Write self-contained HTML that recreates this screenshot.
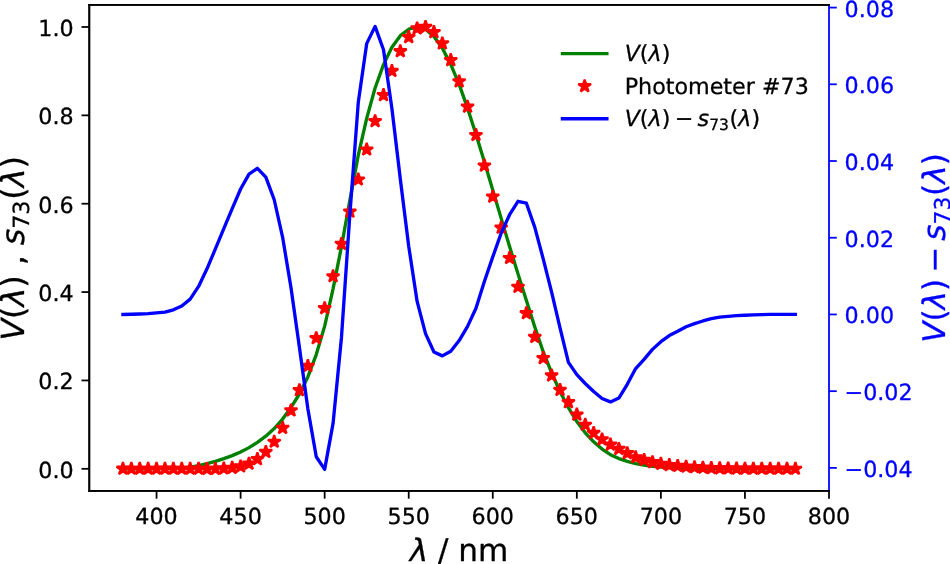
<!DOCTYPE html>
<html><head><meta charset="utf-8"><title>V(lambda) vs Photometer #73</title>
<style>html,body{margin:0;padding:0;background:#fff;}body{width:950px;height:564px;overflow:hidden;}svg{display:block;text-rendering:geometricPrecision;}</style>
</head><body>
<svg width="950" height="564" viewBox="0 0 427.5 253.8" version="1.1">
<defs>
<style type="text/css">text{stroke:#000;stroke-width:0.135px;}*{stroke-linejoin: round; stroke-linecap: butt}</style>
</defs>
<g id="figure_1">
<g id="patch_1">
<path d="M 0 253.8 
L 427.5 253.8 
L 427.5 0 
L 0 0 
z
" style="fill: #ffffff"/>
</g>
<g id="axes_1">
<g id="patch_2">
<path d="M 40.185 220.905 
L 373.05 220.905 
L 373.05 2.205 
L 40.185 2.205 
z
" style="fill: #ffffff"/>
</g>
<g id="matplotlib.axis_1">
<g id="xtick_1">
<g id="line2d_1">
<g>
<path d="M 0 0 L 0 3.5" transform="translate(70.445455 220.905)" style="stroke: #000000; stroke-width: 0.8"/>
</g>
</g>
<g id="text_1" transform="translate(0.0000 0.2250)">
<text style="font-size: 10px; font-family: 'DejaVu Sans', sans-serif; text-anchor: middle" x="70.445455" y="235.503437" transform="rotate(-0 70.445455 235.503437)">400</text>
</g>
</g>
<g id="xtick_2">
<g id="line2d_2">
<g>
<path d="M 0 0 L 0 3.5" transform="translate(108.271023 220.905)" style="stroke: #000000; stroke-width: 0.8"/>
</g>
</g>
<g id="text_2" transform="translate(0.0000 0.2250)">
<text style="font-size: 10px; font-family: 'DejaVu Sans', sans-serif; text-anchor: middle" x="108.271023" y="235.503437" transform="rotate(-0 108.271023 235.503437)">450</text>
</g>
</g>
<g id="xtick_3">
<g id="line2d_3">
<g>
<path d="M 0 0 L 0 3.5" transform="translate(146.096591 220.905)" style="stroke: #000000; stroke-width: 0.8"/>
</g>
</g>
<g id="text_3" transform="translate(0.0000 0.2250)">
<text style="font-size: 10px; font-family: 'DejaVu Sans', sans-serif; text-anchor: middle" x="146.096591" y="235.503437" transform="rotate(-0 146.096591 235.503437)">500</text>
</g>
</g>
<g id="xtick_4">
<g id="line2d_4">
<g>
<path d="M 0 0 L 0 3.5" transform="translate(183.922159 220.905)" style="stroke: #000000; stroke-width: 0.8"/>
</g>
</g>
<g id="text_4" transform="translate(0.0000 0.2250)">
<text style="font-size: 10px; font-family: 'DejaVu Sans', sans-serif; text-anchor: middle" x="183.922159" y="235.503437" transform="rotate(-0 183.922159 235.503437)">550</text>
</g>
</g>
<g id="xtick_5">
<g id="line2d_5">
<g>
<path d="M 0 0 L 0 3.5" transform="translate(221.747727 220.905)" style="stroke: #000000; stroke-width: 0.8"/>
</g>
</g>
<g id="text_5" transform="translate(0.0000 0.2250)">
<text style="font-size: 10px; font-family: 'DejaVu Sans', sans-serif; text-anchor: middle" x="221.747727" y="235.503437" transform="rotate(-0 221.747727 235.503437)">600</text>
</g>
</g>
<g id="xtick_6">
<g id="line2d_6">
<g>
<path d="M 0 0 L 0 3.5" transform="translate(259.573295 220.905)" style="stroke: #000000; stroke-width: 0.8"/>
</g>
</g>
<g id="text_6" transform="translate(0.0000 0.2250)">
<text style="font-size: 10px; font-family: 'DejaVu Sans', sans-serif; text-anchor: middle" x="259.573295" y="235.503437" transform="rotate(-0 259.573295 235.503437)">650</text>
</g>
</g>
<g id="xtick_7">
<g id="line2d_7">
<g>
<path d="M 0 0 L 0 3.5" transform="translate(297.398864 220.905)" style="stroke: #000000; stroke-width: 0.8"/>
</g>
</g>
<g id="text_7" transform="translate(0.0000 0.2250)">
<text style="font-size: 10px; font-family: 'DejaVu Sans', sans-serif; text-anchor: middle" x="297.398864" y="235.503437" transform="rotate(-0 297.398864 235.503437)">700</text>
</g>
</g>
<g id="xtick_8">
<g id="line2d_8">
<g>
<path d="M 0 0 L 0 3.5" transform="translate(335.224432 220.905)" style="stroke: #000000; stroke-width: 0.8"/>
</g>
</g>
<g id="text_8" transform="translate(0.0000 0.2250)">
<text style="font-size: 10px; font-family: 'DejaVu Sans', sans-serif; text-anchor: middle" x="335.224432" y="235.503437" transform="rotate(-0 335.224432 235.503437)">750</text>
</g>
</g>
<g id="xtick_9">
<g id="line2d_9">
<g>
<path d="M 0 0 L 0 3.5" transform="translate(373.05 220.905)" style="stroke: #000000; stroke-width: 0.8"/>
</g>
</g>
<g id="text_9" transform="translate(0.0000 0.2250)">
<text style="font-size: 10px; font-family: 'DejaVu Sans', sans-serif; text-anchor: middle" x="373.05" y="235.503437" transform="rotate(-0 373.05 235.503437)">800</text>
</g>
</g>
<g id="text_10" transform="translate(0.0000 0.4950)">
<!-- $\lambda$ / nm -->
<g transform="translate(184.3575 252.220937)">
<text>
<tspan x="0" y="-0.359375" style="font-style: oblique; font-size: 14px; font-family: 'DejaVu Sans', sans-serif">λ</tspan>
<tspan x="8.285156" y="-0.359375" style="font-size: 14px; font-family: 'DejaVu Sans', sans-serif"> </tspan>
<tspan x="12.735352" y="-0.359375" style="font-size: 14px; font-family: 'DejaVu Sans', sans-serif">/</tspan>
<tspan x="17.452148" y="-0.359375" style="font-size: 14px; font-family: 'DejaVu Sans', sans-serif"> </tspan>
<tspan x="21.902344" y="-0.359375" style="font-size: 14px; font-family: 'DejaVu Sans', sans-serif">n</tspan>
<tspan x="30.775391" y="-0.359375" style="font-size: 14px; font-family: 'DejaVu Sans', sans-serif">m</tspan>
</text>
</g>
</g>
</g>
<g id="matplotlib.axis_2">
<g id="ytick_1">
<g id="line2d_10">
<g>
<path d="M 0 0 L -3.5 0" transform="translate(40.185 210.964091)" style="stroke: #000000; stroke-width: 0.8"/>
</g>
</g>
<g id="text_11" transform="translate(0.0000 0.2250)">
<text style="font-size: 10px; font-family: 'DejaVu Sans', sans-serif; text-anchor: end" x="33.185" y="214.76331" transform="rotate(-0 33.185 214.76331)">0.0</text>
</g>
</g>
<g id="ytick_2">
<g id="line2d_11">
<g>
<path d="M 0 0 L -3.5 0" transform="translate(40.185 171.200455)" style="stroke: #000000; stroke-width: 0.8"/>
</g>
</g>
<g id="text_12" transform="translate(0.0000 0.2250)">
<text style="font-size: 10px; font-family: 'DejaVu Sans', sans-serif; text-anchor: end" x="33.185" y="174.999673" transform="rotate(-0 33.185 174.999673)">0.2</text>
</g>
</g>
<g id="ytick_3">
<g id="line2d_12">
<g>
<path d="M 0 0 L -3.5 0" transform="translate(40.185 131.436818)" style="stroke: #000000; stroke-width: 0.8"/>
</g>
</g>
<g id="text_13" transform="translate(0.0000 0.2250)">
<text style="font-size: 10px; font-family: 'DejaVu Sans', sans-serif; text-anchor: end" x="33.185" y="135.236037" transform="rotate(-0 33.185 135.236037)">0.4</text>
</g>
</g>
<g id="ytick_4">
<g id="line2d_13">
<g>
<path d="M 0 0 L -3.5 0" transform="translate(40.185 91.673182)" style="stroke: #000000; stroke-width: 0.8"/>
</g>
</g>
<g id="text_14" transform="translate(0.0000 0.2250)">
<text style="font-size: 10px; font-family: 'DejaVu Sans', sans-serif; text-anchor: end" x="33.185" y="95.472401" transform="rotate(-0 33.185 95.472401)">0.6</text>
</g>
</g>
<g id="ytick_5">
<g id="line2d_14">
<g>
<path d="M 0 0 L -3.5 0" transform="translate(40.185 51.909545)" style="stroke: #000000; stroke-width: 0.8"/>
</g>
</g>
<g id="text_15" transform="translate(0.0000 0.2250)">
<text style="font-size: 10px; font-family: 'DejaVu Sans', sans-serif; text-anchor: end" x="33.185" y="55.708764" transform="rotate(-0 33.185 55.708764)">0.8</text>
</g>
</g>
<g id="ytick_6">
<g id="line2d_15">
<g>
<path d="M 0 0 L -3.5 0" transform="translate(40.185 12.145909)" style="stroke: #000000; stroke-width: 0.8"/>
</g>
</g>
<g id="text_16" transform="translate(0.0000 0.2250)">
<text style="font-size: 10px; font-family: 'DejaVu Sans', sans-serif; text-anchor: end" x="33.185" y="15.945128" transform="rotate(-0 33.185 15.945128)">1.0</text>
</g>
</g>
<g id="text_17" transform="translate(0.9450 0.0000)">
<!-- $V(\lambda)$ , $s_{73}(\lambda)$ -->
<g transform="translate(10.307922 153.2395) rotate(-90)">
<text>
<tspan x="0" y="-0.359375" style="font-style: oblique; font-size: 14.3px; font-family: 'DejaVu Sans', sans-serif">V</tspan>
<tspan x="15.307617" y="-0.359375" style="font-style: oblique; font-size: 14.3px; font-family: 'DejaVu Sans', sans-serif">λ</tspan>
<tspan x="42.88916" y="-0.359375" style="font-style: oblique; font-size: 14.3px; font-family: 'DejaVu Sans', sans-serif">s</tspan>
<tspan x="68.948413" y="-0.359375" style="font-style: oblique; font-size: 14.3px; font-family: 'DejaVu Sans', sans-serif">λ</tspan>
<tspan x="9.748169" y="-0.359375" style="font-size: 14.3px; font-family: 'DejaVu Sans', sans-serif">(</tspan>
<tspan x="23.740723" y="-0.359375" style="font-size: 14.3px; font-family: 'DejaVu Sans', sans-serif">)</tspan>
<tspan x="29.300171" y="-0.359375" style="font-size: 14.3px; font-family: 'DejaVu Sans', sans-serif"> </tspan>
<tspan x="33.829834" y="-0.359375" style="font-size: 14.3px; font-family: 'DejaVu Sans', sans-serif">,</tspan>
<tspan x="38.359497" y="-0.359375" style="font-size: 14.3px; font-family: 'DejaVu Sans', sans-serif"> </tspan>
<tspan x="63.388965" y="-0.359375" style="font-size: 14.3px; font-family: 'DejaVu Sans', sans-serif">(</tspan>
<tspan x="77.381519" y="-0.359375" style="font-size: 14.3px; font-family: 'DejaVu Sans', sans-serif">)</tspan>
<tspan x="50.313354" y="1.9375" style="font-size: 10.01px; font-family: 'DejaVu Sans', sans-serif">7</tspan>
<tspan x="56.659753" y="1.9375" style="font-size: 10.01px; font-family: 'DejaVu Sans', sans-serif">3</tspan>
</text>
</g>
</g>
</g>
<g id="line2d_16">
<path d="M 55.315227 210.956337 
L 59.097784 210.951367 
L 62.880341 210.940233 
L 66.662898 210.920947 
L 70.445455 210.885359 
L 74.228011 210.836847 
L 78.010568 210.723521 
L 81.793125 210.530667 
L 85.575682 210.168818 
L 89.358239 209.512718 
L 93.140795 208.6578 
L 96.923352 207.615993 
L 100.705909 206.391273 
L 104.488466 205.039309 
L 108.271023 203.409 
L 112.05358 201.420818 
L 115.836136 199.035 
L 119.618693 196.271427 
L 123.40125 192.875613 
L 127.183807 188.577164 
L 130.966364 183.324387 
L 134.74892 177.304173 
L 138.531477 169.605933 
L 142.314034 159.549709 
L 146.096591 146.745818 
L 149.879148 129.985445 
L 153.661705 110.958545 
L 157.444261 90.042873 
L 161.226818 69.803182 
L 165.009375 53.261509 
L 168.791932 39.582818 
L 172.574489 29.075277 
L 176.357045 21.291545 
L 180.139602 16.062627 
L 183.922159 13.149941 
L 187.704716 12.145909 
L 191.487273 13.14 
L 195.26983 16.400618 
L 199.052386 21.689182 
L 202.834943 28.965927 
L 206.6175 37.992273 
L 210.400057 48.668809 
L 214.182614 60.458727 
L 217.96517 72.805336 
L 221.747727 85.509818 
L 225.530284 98.273945 
L 229.312841 110.958545 
L 233.095398 123.245509 
L 236.877955 135.214364 
L 240.660511 147.143455 
L 244.443068 158.277273 
L 248.225625 167.820545 
L 252.008182 176.170909 
L 255.790739 183.487418 
L 259.573295 189.690545 
L 263.355852 194.740527 
L 267.138409 198.836182 
L 270.920966 202.100776 
L 274.703523 204.601909 
L 278.48608 206.351509 
L 282.268636 207.584182 
L 286.051193 208.594178 
L 289.83375 209.331794 
L 293.616307 209.826254 
L 297.398864 210.148539 
L 301.18142 210.381752 
L 304.963977 210.548362 
L 308.746534 210.669045 
L 312.529091 210.755928 
L 316.311648 210.816965 
L 320.094205 210.860705 
L 323.876761 210.892318 
L 327.659318 210.914585 
L 331.441875 210.929894 
L 335.224432 210.940233 
L 339.006989 210.947231 
L 342.789545 210.952162 
L 346.572102 210.955661 
L 350.354659 210.958126 
L 354.137216 210.959876 
L 357.919773 210.961109 
" clip-path="url(#p7235c528ca)" style="fill: none; stroke: #008000; stroke-width: 1.5; stroke-linecap: square"/>
</g>
<g id="line2d_17">
<g clip-path="url(#p7235c528ca)">
<path d="M 0 -3 L -0.673542 -0.927051 L -2.85317 -0.927051 L -1.089814 0.354102 L -1.763356 2.427051 L -0 1.145898 L 1.763356 2.427051 L 1.089814 0.354102 L 2.85317 -0.927051 L 0.673542 -0.927051 z" transform="translate(55.315227 210.956337)" style="fill: #ff0000; stroke: #ff0000; stroke-linejoin: bevel"/>
<path d="M 0 -3 L -0.673542 -0.927051 L -2.85317 -0.927051 L -1.089814 0.354102 L -1.763356 2.427051 L -0 1.145898 L 1.763356 2.427051 L 1.089814 0.354102 L 2.85317 -0.927051 L 0.673542 -0.927051 z" transform="translate(59.097784 210.963296)" style="fill: #ff0000; stroke: #ff0000; stroke-linejoin: bevel"/>
<path d="M 0 -3 L -0.673542 -0.927051 L -2.85317 -0.927051 L -1.089814 0.354102 L -1.763356 2.427051 L -0 1.145898 L 1.763356 2.427051 L 1.089814 0.354102 L 2.85317 -0.927051 L 0.673542 -0.927051 z" transform="translate(62.880341 210.964091)" style="fill: #ff0000; stroke: #ff0000; stroke-linejoin: bevel"/>
<path d="M 0 -3 L -0.673542 -0.927051 L -2.85317 -0.927051 L -1.089814 0.354102 L -1.763356 2.427051 L -0 1.145898 L 1.763356 2.427051 L 1.089814 0.354102 L 2.85317 -0.927051 L 0.673542 -0.927051 z" transform="translate(66.662898 210.960711)" style="fill: #ff0000; stroke: #ff0000; stroke-linejoin: bevel"/>
<path d="M 0 -3 L -0.673542 -0.927051 L -2.85317 -0.927051 L -1.089814 0.354102 L -1.763356 2.427051 L -0 1.145898 L 1.763356 2.427051 L 1.089814 0.354102 L 2.85317 -0.927051 L 0.673542 -0.927051 z" transform="translate(70.445455 210.964886)" style="fill: #ff0000; stroke: #ff0000; stroke-linejoin: bevel"/>
<path d="M 0 -3 L -0.673542 -0.927051 L -2.85317 -0.927051 L -1.089814 0.354102 L -1.763356 2.427051 L -0 1.145898 L 1.763356 2.427051 L 1.089814 0.354102 L 2.85317 -0.927051 L 0.673542 -0.927051 z" transform="translate(74.228011 210.956138)" style="fill: #ff0000; stroke: #ff0000; stroke-linejoin: bevel"/>
<path d="M 0 -3 L -0.673542 -0.927051 L -2.85317 -0.927051 L -1.089814 0.354102 L -1.763356 2.427051 L -0 1.145898 L 1.763356 2.427051 L 1.089814 0.354102 L 2.85317 -0.927051 L 0.673542 -0.927051 z" transform="translate(78.010568 210.962103)" style="fill: #ff0000; stroke: #ff0000; stroke-linejoin: bevel"/>
<path d="M 0 -3 L -0.673542 -0.927051 L -2.85317 -0.927051 L -1.089814 0.354102 L -1.763356 2.427051 L -0 1.145898 L 1.763356 2.427051 L 1.089814 0.354102 L 2.85317 -0.927051 L 0.673542 -0.927051 z" transform="translate(81.793125 210.968067)" style="fill: #ff0000; stroke: #ff0000; stroke-linejoin: bevel"/>
<path d="M 0 -3 L -0.673542 -0.927051 L -2.85317 -0.927051 L -1.089814 0.354102 L -1.763356 2.427051 L -0 1.145898 L 1.763356 2.427051 L 1.089814 0.354102 L 2.85317 -0.927051 L 0.673542 -0.927051 z" transform="translate(85.575682 210.964091)" style="fill: #ff0000; stroke: #ff0000; stroke-linejoin: bevel"/>
<path d="M 0 -3 L -0.673542 -0.927051 L -2.85317 -0.927051 L -1.089814 0.354102 L -1.763356 2.427051 L -0 1.145898 L 1.763356 2.427051 L 1.089814 0.354102 L 2.85317 -0.927051 L 0.673542 -0.927051 z" transform="translate(89.358239 210.964091)" style="fill: #ff0000; stroke: #ff0000; stroke-linejoin: bevel"/>
<path d="M 0 -3 L -0.673542 -0.927051 L -2.85317 -0.927051 L -1.089814 0.354102 L -1.763356 2.427051 L -0 1.145898 L 1.763356 2.427051 L 1.089814 0.354102 L 2.85317 -0.927051 L 0.673542 -0.927051 z" transform="translate(93.140795 211.023736)" style="fill: #ff0000; stroke: #ff0000; stroke-linejoin: bevel"/>
<path d="M 0 -3 L -0.673542 -0.927051 L -2.85317 -0.927051 L -1.089814 0.354102 L -1.763356 2.427051 L -0 1.145898 L 1.763356 2.427051 L 1.089814 0.354102 L 2.85317 -0.927051 L 0.673542 -0.927051 z" transform="translate(96.923352 211.015784)" style="fill: #ff0000; stroke: #ff0000; stroke-linejoin: bevel"/>
<path d="M 0 -3 L -0.673542 -0.927051 L -2.85317 -0.927051 L -1.089814 0.354102 L -1.763356 2.427051 L -0 1.145898 L 1.763356 2.427051 L 1.089814 0.354102 L 2.85317 -0.927051 L 0.673542 -0.927051 z" transform="translate(100.705909 210.8448)" style="fill: #ff0000; stroke: #ff0000; stroke-linejoin: bevel"/>
<path d="M 0 -3 L -0.673542 -0.927051 L -2.85317 -0.927051 L -1.089814 0.354102 L -1.763356 2.427051 L -0 1.145898 L 1.763356 2.427051 L 1.089814 0.354102 L 2.85317 -0.927051 L 0.673542 -0.927051 z" transform="translate(104.488466 210.526691)" style="fill: #ff0000; stroke: #ff0000; stroke-linejoin: bevel"/>
<path d="M 0 -3 L -0.673542 -0.927051 L -2.85317 -0.927051 L -1.089814 0.354102 L -1.763356 2.427051 L -0 1.145898 L 1.763356 2.427051 L 1.089814 0.354102 L 2.85317 -0.927051 L 0.673542 -0.927051 z" transform="translate(108.271023 209.910355)" style="fill: #ff0000; stroke: #ff0000; stroke-linejoin: bevel"/>
<path d="M 0 -3 L -0.673542 -0.927051 L -2.85317 -0.927051 L -1.089814 0.354102 L -1.763356 2.427051 L -0 1.145898 L 1.763356 2.427051 L 1.089814 0.354102 L 2.85317 -0.927051 L 0.673542 -0.927051 z" transform="translate(112.05358 208.697564)" style="fill: #ff0000; stroke: #ff0000; stroke-linejoin: bevel"/>
<path d="M 0 -3 L -0.673542 -0.927051 L -2.85317 -0.927051 L -1.089814 0.354102 L -1.763356 2.427051 L -0 1.145898 L 1.763356 2.427051 L 1.089814 0.354102 L 2.85317 -0.927051 L 0.673542 -0.927051 z" transform="translate(115.836136 206.609973)" style="fill: #ff0000; stroke: #ff0000; stroke-linejoin: bevel"/>
<path d="M 0 -3 L -0.673542 -0.927051 L -2.85317 -0.927051 L -1.089814 0.354102 L -1.763356 2.427051 L -0 1.145898 L 1.763356 2.427051 L 1.089814 0.354102 L 2.85317 -0.927051 L 0.673542 -0.927051 z" transform="translate(119.618693 203.389118)" style="fill: #ff0000; stroke: #ff0000; stroke-linejoin: bevel"/>
<path d="M 0 -3 L -0.673542 -0.927051 L -2.85317 -0.927051 L -1.089814 0.354102 L -1.763356 2.427051 L -0 1.145898 L 1.763356 2.427051 L 1.089814 0.354102 L 2.85317 -0.927051 L 0.673542 -0.927051 z" transform="translate(123.40125 198.820276)" style="fill: #ff0000; stroke: #ff0000; stroke-linejoin: bevel"/>
<path d="M 0 -3 L -0.673542 -0.927051 L -2.85317 -0.927051 L -1.089814 0.354102 L -1.763356 2.427051 L -0 1.145898 L 1.763356 2.427051 L 1.089814 0.354102 L 2.85317 -0.927051 L 0.673542 -0.927051 z" transform="translate(127.183807 192.573409)" style="fill: #ff0000; stroke: #ff0000; stroke-linejoin: bevel"/>
<path d="M 0 -3 L -0.673542 -0.927051 L -2.85317 -0.927051 L -1.089814 0.354102 L -1.763356 2.427051 L -0 1.145898 L 1.763356 2.427051 L 1.089814 0.354102 L 2.85317 -0.927051 L 0.673542 -0.927051 z" transform="translate(130.966364 184.696233)" style="fill: #ff0000; stroke: #ff0000; stroke-linejoin: bevel"/>
<path d="M 0 -3 L -0.673542 -0.927051 L -2.85317 -0.927051 L -1.089814 0.354102 L -1.763356 2.427051 L -0 1.145898 L 1.763356 2.427051 L 1.089814 0.354102 L 2.85317 -0.927051 L 0.673542 -0.927051 z" transform="translate(134.74892 175.594336)" style="fill: #ff0000; stroke: #ff0000; stroke-linejoin: bevel"/>
<path d="M 0 -3 L -0.673542 -0.927051 L -2.85317 -0.927051 L -1.089814 0.354102 L -1.763356 2.427051 L -0 1.145898 L 1.763356 2.427051 L 1.089814 0.354102 L 2.85317 -0.927051 L 0.673542 -0.927051 z" transform="translate(138.531477 164.715005)" style="fill: #ff0000; stroke: #ff0000; stroke-linejoin: bevel"/>
<path d="M 0 -3 L -0.673542 -0.927051 L -2.85317 -0.927051 L -1.089814 0.354102 L -1.763356 2.427051 L -0 1.145898 L 1.763356 2.427051 L 1.089814 0.354102 L 2.85317 -0.927051 L 0.673542 -0.927051 z" transform="translate(142.314034 152.173555)" style="fill: #ff0000; stroke: #ff0000; stroke-linejoin: bevel"/>
<path d="M 0 -3 L -0.673542 -0.927051 L -2.85317 -0.927051 L -1.089814 0.354102 L -1.763356 2.427051 L -0 1.145898 L 1.763356 2.427051 L 1.089814 0.354102 L 2.85317 -0.927051 L 0.673542 -0.927051 z" transform="translate(146.096591 138.713564)" style="fill: #ff0000; stroke: #ff0000; stroke-linejoin: bevel"/>
<path d="M 0 -3 L -0.673542 -0.927051 L -2.85317 -0.927051 L -1.089814 0.354102 L -1.763356 2.427051 L -0 1.145898 L 1.763356 2.427051 L 1.089814 0.354102 L 2.85317 -0.927051 L 0.673542 -0.927051 z" transform="translate(149.879148 124.339009)" style="fill: #ff0000; stroke: #ff0000; stroke-linejoin: bevel"/>
<path d="M 0 -3 L -0.673542 -0.927051 L -2.85317 -0.927051 L -1.089814 0.354102 L -1.763356 2.427051 L -0 1.145898 L 1.763356 2.427051 L 1.089814 0.354102 L 2.85317 -0.927051 L 0.673542 -0.927051 z" transform="translate(153.661705 109.765636)" style="fill: #ff0000; stroke: #ff0000; stroke-linejoin: bevel"/>
<path d="M 0 -3 L -0.673542 -0.927051 L -2.85317 -0.927051 L -1.089814 0.354102 L -1.763356 2.427051 L -0 1.145898 L 1.763356 2.427051 L 1.089814 0.354102 L 2.85317 -0.927051 L 0.673542 -0.927051 z" transform="translate(157.444261 95.232027)" style="fill: #ff0000; stroke: #ff0000; stroke-linejoin: bevel"/>
<path d="M 0 -3 L -0.673542 -0.927051 L -2.85317 -0.927051 L -1.089814 0.354102 L -1.763356 2.427051 L -0 1.145898 L 1.763356 2.427051 L 1.089814 0.354102 L 2.85317 -0.927051 L 0.673542 -0.927051 z" transform="translate(161.226818 80.797827)" style="fill: #ff0000; stroke: #ff0000; stroke-linejoin: bevel"/>
<path d="M 0 -3 L -0.673542 -0.927051 L -2.85317 -0.927051 L -1.089814 0.354102 L -1.763356 2.427051 L -0 1.145898 L 1.763356 2.427051 L 1.089814 0.354102 L 2.85317 -0.927051 L 0.673542 -0.927051 z" transform="translate(165.009375 67.298073)" style="fill: #ff0000; stroke: #ff0000; stroke-linejoin: bevel"/>
<path d="M 0 -3 L -0.673542 -0.927051 L -2.85317 -0.927051 L -1.089814 0.354102 L -1.763356 2.427051 L -0 1.145898 L 1.763356 2.427051 L 1.089814 0.354102 L 2.85317 -0.927051 L 0.673542 -0.927051 z" transform="translate(168.791932 54.514064)" style="fill: #ff0000; stroke: #ff0000; stroke-linejoin: bevel"/>
<path d="M 0 -3 L -0.673542 -0.927051 L -2.85317 -0.927051 L -1.089814 0.354102 L -1.763356 2.427051 L -0 1.145898 L 1.763356 2.427051 L 1.089814 0.354102 L 2.85317 -0.927051 L 0.673542 -0.927051 z" transform="translate(172.574489 42.793732)" style="fill: #ff0000; stroke: #ff0000; stroke-linejoin: bevel"/>
<path d="M 0 -3 L -0.673542 -0.927051 L -2.85317 -0.927051 L -1.089814 0.354102 L -1.763356 2.427051 L -0 1.145898 L 1.763356 2.427051 L 1.089814 0.354102 L 2.85317 -0.927051 L 0.673542 -0.927051 z" transform="translate(176.357045 31.968082)" style="fill: #ff0000; stroke: #ff0000; stroke-linejoin: bevel"/>
<path d="M 0 -3 L -0.673542 -0.927051 L -2.85317 -0.927051 L -1.089814 0.354102 L -1.763356 2.427051 L -0 1.145898 L 1.763356 2.427051 L 1.089814 0.354102 L 2.85317 -0.927051 L 0.673542 -0.927051 z" transform="translate(180.139602 23.080909)" style="fill: #ff0000; stroke: #ff0000; stroke-linejoin: bevel"/>
<path d="M 0 -3 L -0.673542 -0.927051 L -2.85317 -0.927051 L -1.089814 0.354102 L -1.763356 2.427051 L -0 1.145898 L 1.763356 2.427051 L 1.089814 0.354102 L 2.85317 -0.927051 L 0.673542 -0.927051 z" transform="translate(183.922159 16.688905)" style="fill: #ff0000; stroke: #ff0000; stroke-linejoin: bevel"/>
<path d="M 0 -3 L -0.673542 -0.927051 L -2.85317 -0.927051 L -1.089814 0.354102 L -1.763356 2.427051 L -0 1.145898 L 1.763356 2.427051 L 1.089814 0.354102 L 2.85317 -0.927051 L 0.673542 -0.927051 z" transform="translate(187.704716 12.821891)" style="fill: #ff0000; stroke: #ff0000; stroke-linejoin: bevel"/>
<path d="M 0 -3 L -0.673542 -0.927051 L -2.85317 -0.927051 L -1.089814 0.354102 L -1.763356 2.427051 L -0 1.145898 L 1.763356 2.427051 L 1.089814 0.354102 L 2.85317 -0.927051 L 0.673542 -0.927051 z" transform="translate(191.487273 12.145909)" style="fill: #ff0000; stroke: #ff0000; stroke-linejoin: bevel"/>
<path d="M 0 -3 L -0.673542 -0.927051 L -2.85317 -0.927051 L -1.089814 0.354102 L -1.763356 2.427051 L -0 1.145898 L 1.763356 2.427051 L 1.089814 0.354102 L 2.85317 -0.927051 L 0.673542 -0.927051 z" transform="translate(195.26983 14.4522)" style="fill: #ff0000; stroke: #ff0000; stroke-linejoin: bevel"/>
<path d="M 0 -3 L -0.673542 -0.927051 L -2.85317 -0.927051 L -1.089814 0.354102 L -1.763356 2.427051 L -0 1.145898 L 1.763356 2.427051 L 1.089814 0.354102 L 2.85317 -0.927051 L 0.673542 -0.927051 z" transform="translate(199.052386 19.541945)" style="fill: #ff0000; stroke: #ff0000; stroke-linejoin: bevel"/>
<path d="M 0 -3 L -0.673542 -0.927051 L -2.85317 -0.927051 L -1.089814 0.354102 L -1.763356 2.427051 L -0 1.145898 L 1.763356 2.427051 L 1.089814 0.354102 L 2.85317 -0.927051 L 0.673542 -0.927051 z" transform="translate(202.834943 27.057273)" style="fill: #ff0000; stroke: #ff0000; stroke-linejoin: bevel"/>
<path d="M 0 -3 L -0.673542 -0.927051 L -2.85317 -0.927051 L -1.089814 0.354102 L -1.763356 2.427051 L -0 1.145898 L 1.763356 2.427051 L 1.089814 0.354102 L 2.85317 -0.927051 L 0.673542 -0.927051 z" transform="translate(206.6175 36.640309)" style="fill: #ff0000; stroke: #ff0000; stroke-linejoin: bevel"/>
<path d="M 0 -3 L -0.673542 -0.927051 L -2.85317 -0.927051 L -1.089814 0.354102 L -1.763356 2.427051 L -0 1.145898 L 1.763356 2.427051 L 1.089814 0.354102 L 2.85317 -0.927051 L 0.673542 -0.927051 z" transform="translate(210.400057 48.052473)" style="fill: #ff0000; stroke: #ff0000; stroke-linejoin: bevel"/>
<path d="M 0 -3 L -0.673542 -0.927051 L -2.85317 -0.927051 L -1.089814 0.354102 L -1.763356 2.427051 L -0 1.145898 L 1.763356 2.427051 L 1.089814 0.354102 L 2.85317 -0.927051 L 0.673542 -0.927051 z" transform="translate(214.182614 60.776836)" style="fill: #ff0000; stroke: #ff0000; stroke-linejoin: bevel"/>
<path d="M 0 -3 L -0.673542 -0.927051 L -2.85317 -0.927051 L -1.089814 0.354102 L -1.763356 2.427051 L -0 1.145898 L 1.763356 2.427051 L 1.089814 0.354102 L 2.85317 -0.927051 L 0.673542 -0.927051 z" transform="translate(217.96517 74.515173)" style="fill: #ff0000; stroke: #ff0000; stroke-linejoin: bevel"/>
<path d="M 0 -3 L -0.673542 -0.927051 L -2.85317 -0.927051 L -1.089814 0.354102 L -1.763356 2.427051 L -0 1.145898 L 1.763356 2.427051 L 1.089814 0.354102 L 2.85317 -0.927051 L 0.673542 -0.927051 z" transform="translate(221.747727 88.492091)" style="fill: #ff0000; stroke: #ff0000; stroke-linejoin: bevel"/>
<path d="M 0 -3 L -0.673542 -0.927051 L -2.85317 -0.927051 L -1.089814 0.354102 L -1.763356 2.427051 L -0 1.145898 L 1.763356 2.427051 L 1.089814 0.354102 L 2.85317 -0.927051 L 0.673542 -0.927051 z" transform="translate(225.530284 102.488891)" style="fill: #ff0000; stroke: #ff0000; stroke-linejoin: bevel"/>
<path d="M 0 -3 L -0.673542 -0.927051 L -2.85317 -0.927051 L -1.089814 0.354102 L -1.763356 2.427051 L -0 1.145898 L 1.763356 2.427051 L 1.089814 0.354102 L 2.85317 -0.927051 L 0.673542 -0.927051 z" transform="translate(229.312841 116.127818)" style="fill: #ff0000; stroke: #ff0000; stroke-linejoin: bevel"/>
<path d="M 0 -3 L -0.673542 -0.927051 L -2.85317 -0.927051 L -1.089814 0.354102 L -1.763356 2.427051 L -0 1.145898 L 1.763356 2.427051 L 1.089814 0.354102 L 2.85317 -0.927051 L 0.673542 -0.927051 z" transform="translate(233.095398 129.110645)" style="fill: #ff0000; stroke: #ff0000; stroke-linejoin: bevel"/>
<path d="M 0 -3 L -0.673542 -0.927051 L -2.85317 -0.927051 L -1.089814 0.354102 L -1.763356 2.427051 L -0 1.145898 L 1.763356 2.427051 L 1.089814 0.354102 L 2.85317 -0.927051 L 0.673542 -0.927051 z" transform="translate(236.877955 140.980091)" style="fill: #ff0000; stroke: #ff0000; stroke-linejoin: bevel"/>
<path d="M 0 -3 L -0.673542 -0.927051 L -2.85317 -0.927051 L -1.089814 0.354102 L -1.763356 2.427051 L -0 1.145898 L 1.763356 2.427051 L 1.089814 0.354102 L 2.85317 -0.927051 L 0.673542 -0.927051 z" transform="translate(240.660511 151.656627)" style="fill: #ff0000; stroke: #ff0000; stroke-linejoin: bevel"/>
<path d="M 0 -3 L -0.673542 -0.927051 L -2.85317 -0.927051 L -1.089814 0.354102 L -1.763356 2.427051 L -0 1.145898 L 1.763356 2.427051 L 1.089814 0.354102 L 2.85317 -0.927051 L 0.673542 -0.927051 z" transform="translate(244.443068 161.160136)" style="fill: #ff0000; stroke: #ff0000; stroke-linejoin: bevel"/>
<path d="M 0 -3 L -0.673542 -0.927051 L -2.85317 -0.927051 L -1.089814 0.354102 L -1.763356 2.427051 L -0 1.145898 L 1.763356 2.427051 L 1.089814 0.354102 L 2.85317 -0.927051 L 0.673542 -0.927051 z" transform="translate(248.225625 168.973691)" style="fill: #ff0000; stroke: #ff0000; stroke-linejoin: bevel"/>
<path d="M 0 -3 L -0.673542 -0.927051 L -2.85317 -0.927051 L -1.089814 0.354102 L -1.763356 2.427051 L -0 1.145898 L 1.763356 2.427051 L 1.089814 0.354102 L 2.85317 -0.927051 L 0.673542 -0.927051 z" transform="translate(252.008182 175.475045)" style="fill: #ff0000; stroke: #ff0000; stroke-linejoin: bevel"/>
<path d="M 0 -3 L -0.673542 -0.927051 L -2.85317 -0.927051 L -1.089814 0.354102 L -1.763356 2.427051 L -0 1.145898 L 1.763356 2.427051 L 1.089814 0.354102 L 2.85317 -0.927051 L 0.673542 -0.927051 z" transform="translate(255.790739 181.002191)" style="fill: #ff0000; stroke: #ff0000; stroke-linejoin: bevel"/>
<path d="M 0 -3 L -0.673542 -0.927051 L -2.85317 -0.927051 L -1.089814 0.354102 L -1.763356 2.427051 L -0 1.145898 L 1.763356 2.427051 L 1.089814 0.354102 L 2.85317 -0.927051 L 0.673542 -0.927051 z" transform="translate(259.573295 186.5691)" style="fill: #ff0000; stroke: #ff0000; stroke-linejoin: bevel"/>
<path d="M 0 -3 L -0.673542 -0.927051 L -2.85317 -0.927051 L -1.089814 0.354102 L -1.763356 2.427051 L -0 1.145898 L 1.763356 2.427051 L 1.089814 0.354102 L 2.85317 -0.927051 L 0.673542 -0.927051 z" transform="translate(263.355852 191.1618)" style="fill: #ff0000; stroke: #ff0000; stroke-linejoin: bevel"/>
<path d="M 0 -3 L -0.673542 -0.927051 L -2.85317 -0.927051 L -1.089814 0.354102 L -1.763356 2.427051 L -0 1.145898 L 1.763356 2.427051 L 1.089814 0.354102 L 2.85317 -0.927051 L 0.673542 -0.927051 z" transform="translate(267.138409 194.839936)" style="fill: #ff0000; stroke: #ff0000; stroke-linejoin: bevel"/>
<path d="M 0 -3 L -0.673542 -0.927051 L -2.85317 -0.927051 L -1.089814 0.354102 L -1.763356 2.427051 L -0 1.145898 L 1.763356 2.427051 L 1.089814 0.354102 L 2.85317 -0.927051 L 0.673542 -0.927051 z" transform="translate(270.920966 197.746658)" style="fill: #ff0000; stroke: #ff0000; stroke-linejoin: bevel"/>
<path d="M 0 -3 L -0.673542 -0.927051 L -2.85317 -0.927051 L -1.089814 0.354102 L -1.763356 2.427051 L -0 1.145898 L 1.763356 2.427051 L 1.089814 0.354102 L 2.85317 -0.927051 L 0.673542 -0.927051 z" transform="translate(274.703523 200.068855)" style="fill: #ff0000; stroke: #ff0000; stroke-linejoin: bevel"/>
<path d="M 0 -3 L -0.673542 -0.927051 L -2.85317 -0.927051 L -1.089814 0.354102 L -1.763356 2.427051 L -0 1.145898 L 1.763356 2.427051 L 1.089814 0.354102 L 2.85317 -0.927051 L 0.673542 -0.927051 z" transform="translate(278.48608 202.017273)" style="fill: #ff0000; stroke: #ff0000; stroke-linejoin: bevel"/>
<path d="M 0 -3 L -0.673542 -0.927051 L -2.85317 -0.927051 L -1.089814 0.354102 L -1.763356 2.427051 L -0 1.145898 L 1.763356 2.427051 L 1.089814 0.354102 L 2.85317 -0.927051 L 0.673542 -0.927051 z" transform="translate(282.268636 203.965691)" style="fill: #ff0000; stroke: #ff0000; stroke-linejoin: bevel"/>
<path d="M 0 -3 L -0.673542 -0.927051 L -2.85317 -0.927051 L -1.089814 0.354102 L -1.763356 2.427051 L -0 1.145898 L 1.763356 2.427051 L 1.089814 0.354102 L 2.85317 -0.927051 L 0.673542 -0.927051 z" transform="translate(286.051193 205.790842)" style="fill: #ff0000; stroke: #ff0000; stroke-linejoin: bevel"/>
<path d="M 0 -3 L -0.673542 -0.927051 L -2.85317 -0.927051 L -1.089814 0.354102 L -1.763356 2.427051 L -0 1.145898 L 1.763356 2.427051 L 1.089814 0.354102 L 2.85317 -0.927051 L 0.673542 -0.927051 z" transform="translate(289.83375 207.005621)" style="fill: #ff0000; stroke: #ff0000; stroke-linejoin: bevel"/>
<path d="M 0 -3 L -0.673542 -0.927051 L -2.85317 -0.927051 L -1.089814 0.354102 L -1.763356 2.427051 L -0 1.145898 L 1.763356 2.427051 L 1.089814 0.354102 L 2.85317 -0.927051 L 0.673542 -0.927051 z" transform="translate(293.616307 208.017009)" style="fill: #ff0000; stroke: #ff0000; stroke-linejoin: bevel"/>
<path d="M 0 -3 L -0.673542 -0.927051 L -2.85317 -0.927051 L -1.089814 0.354102 L -1.763356 2.427051 L -0 1.145898 L 1.763356 2.427051 L 1.089814 0.354102 L 2.85317 -0.927051 L 0.673542 -0.927051 z" transform="translate(297.398864 208.73693)" style="fill: #ff0000; stroke: #ff0000; stroke-linejoin: bevel"/>
<path d="M 0 -3 L -0.673542 -0.927051 L -2.85317 -0.927051 L -1.089814 0.354102 L -1.763356 2.427051 L -0 1.145898 L 1.763356 2.427051 L 1.089814 0.354102 L 2.85317 -0.927051 L 0.673542 -0.927051 z" transform="translate(301.18142 209.288252)" style="fill: #ff0000; stroke: #ff0000; stroke-linejoin: bevel"/>
<path d="M 0 -3 L -0.673542 -0.927051 L -2.85317 -0.927051 L -1.089814 0.354102 L -1.763356 2.427051 L -0 1.145898 L 1.763356 2.427051 L 1.089814 0.354102 L 2.85317 -0.927051 L 0.673542 -0.927051 z" transform="translate(304.963977 209.673562)" style="fill: #ff0000; stroke: #ff0000; stroke-linejoin: bevel"/>
<path d="M 0 -3 L -0.673542 -0.927051 L -2.85317 -0.927051 L -1.089814 0.354102 L -1.763356 2.427051 L -0 1.145898 L 1.763356 2.427051 L 1.089814 0.354102 L 2.85317 -0.927051 L 0.673542 -0.927051 z" transform="translate(308.746534 210.032827)" style="fill: #ff0000; stroke: #ff0000; stroke-linejoin: bevel"/>
<path d="M 0 -3 L -0.673542 -0.927051 L -2.85317 -0.927051 L -1.089814 0.354102 L -1.763356 2.427051 L -0 1.145898 L 1.763356 2.427051 L 1.089814 0.354102 L 2.85317 -0.927051 L 0.673542 -0.927051 z" transform="translate(312.529091 210.278765)" style="fill: #ff0000; stroke: #ff0000; stroke-linejoin: bevel"/>
<path d="M 0 -3 L -0.673542 -0.927051 L -2.85317 -0.927051 L -1.089814 0.354102 L -1.763356 2.427051 L -0 1.145898 L 1.763356 2.427051 L 1.089814 0.354102 L 2.85317 -0.927051 L 0.673542 -0.927051 z" transform="translate(316.311648 210.478975)" style="fill: #ff0000; stroke: #ff0000; stroke-linejoin: bevel"/>
<path d="M 0 -3 L -0.673542 -0.927051 L -2.85317 -0.927051 L -1.089814 0.354102 L -1.763356 2.427051 L -0 1.145898 L 1.763356 2.427051 L 1.089814 0.354102 L 2.85317 -0.927051 L 0.673542 -0.927051 z" transform="translate(320.094205 210.642005)" style="fill: #ff0000; stroke: #ff0000; stroke-linejoin: bevel"/>
<path d="M 0 -3 L -0.673542 -0.927051 L -2.85317 -0.927051 L -1.089814 0.354102 L -1.763356 2.427051 L -0 1.145898 L 1.763356 2.427051 L 1.089814 0.354102 L 2.85317 -0.927051 L 0.673542 -0.927051 z" transform="translate(323.876761 210.753145)" style="fill: #ff0000; stroke: #ff0000; stroke-linejoin: bevel"/>
<path d="M 0 -3 L -0.673542 -0.927051 L -2.85317 -0.927051 L -1.089814 0.354102 L -1.763356 2.427051 L -0 1.145898 L 1.763356 2.427051 L 1.089814 0.354102 L 2.85317 -0.927051 L 0.673542 -0.927051 z" transform="translate(327.659318 210.815176)" style="fill: #ff0000; stroke: #ff0000; stroke-linejoin: bevel"/>
<path d="M 0 -3 L -0.673542 -0.927051 L -2.85317 -0.927051 L -1.089814 0.354102 L -1.763356 2.427051 L -0 1.145898 L 1.763356 2.427051 L 1.089814 0.354102 L 2.85317 -0.927051 L 0.673542 -0.927051 z" transform="translate(331.441875 210.870249)" style="fill: #ff0000; stroke: #ff0000; stroke-linejoin: bevel"/>
<path d="M 0 -3 L -0.673542 -0.927051 L -2.85317 -0.927051 L -1.089814 0.354102 L -1.763356 2.427051 L -0 1.145898 L 1.763356 2.427051 L 1.089814 0.354102 L 2.85317 -0.927051 L 0.673542 -0.927051 z" transform="translate(335.224432 210.900469)" style="fill: #ff0000; stroke: #ff0000; stroke-linejoin: bevel"/>
<path d="M 0 -3 L -0.673542 -0.927051 L -2.85317 -0.927051 L -1.089814 0.354102 L -1.763356 2.427051 L -0 1.145898 L 1.763356 2.427051 L 1.089814 0.354102 L 2.85317 -0.927051 L 0.673542 -0.927051 z" transform="translate(339.006989 210.927349)" style="fill: #ff0000; stroke: #ff0000; stroke-linejoin: bevel"/>
<path d="M 0 -3 L -0.673542 -0.927051 L -2.85317 -0.927051 L -1.089814 0.354102 L -1.763356 2.427051 L -0 1.145898 L 1.763356 2.427051 L 1.089814 0.354102 L 2.85317 -0.927051 L 0.673542 -0.927051 z" transform="translate(342.789545 210.942221)" style="fill: #ff0000; stroke: #ff0000; stroke-linejoin: bevel"/>
<path d="M 0 -3 L -0.673542 -0.927051 L -2.85317 -0.927051 L -1.089814 0.354102 L -1.763356 2.427051 L -0 1.145898 L 1.763356 2.427051 L 1.089814 0.354102 L 2.85317 -0.927051 L 0.673542 -0.927051 z" transform="translate(346.572102 210.955661)" style="fill: #ff0000; stroke: #ff0000; stroke-linejoin: bevel"/>
<path d="M 0 -3 L -0.673542 -0.927051 L -2.85317 -0.927051 L -1.089814 0.354102 L -1.763356 2.427051 L -0 1.145898 L 1.763356 2.427051 L 1.089814 0.354102 L 2.85317 -0.927051 L 0.673542 -0.927051 z" transform="translate(350.354659 210.958126)" style="fill: #ff0000; stroke: #ff0000; stroke-linejoin: bevel"/>
<path d="M 0 -3 L -0.673542 -0.927051 L -2.85317 -0.927051 L -1.089814 0.354102 L -1.763356 2.427051 L -0 1.145898 L 1.763356 2.427051 L 1.089814 0.354102 L 2.85317 -0.927051 L 0.673542 -0.927051 z" transform="translate(354.137216 210.959876)" style="fill: #ff0000; stroke: #ff0000; stroke-linejoin: bevel"/>
<path d="M 0 -3 L -0.673542 -0.927051 L -2.85317 -0.927051 L -1.089814 0.354102 L -1.763356 2.427051 L -0 1.145898 L 1.763356 2.427051 L 1.089814 0.354102 L 2.85317 -0.927051 L 0.673542 -0.927051 z" transform="translate(357.919773 210.961109)" style="fill: #ff0000; stroke: #ff0000; stroke-linejoin: bevel"/>
</g>
</g>
<g id="patch_3">
<path d="M 40.185 220.905 
L 40.185 2.205 
" style="fill: none; stroke: #000000; stroke-width: 0.8; stroke-linejoin: miter; stroke-linecap: square"/>
</g>
<g id="patch_4">
<path d="M 40.185 220.905 
L 373.05 220.905 
" style="fill: none; stroke: #000000; stroke-width: 0.8; stroke-linejoin: miter; stroke-linecap: square"/>
</g>
<g id="patch_5">
<path d="M 40.185 2.205 
L 373.05 2.205 
" style="fill: none; stroke: #000000; stroke-width: 0.8; stroke-linejoin: miter; stroke-linecap: square"/>
</g>
</g>
<g id="axes_2">
<g id="matplotlib.axis_3">
<g id="ytick_7">
<g id="line2d_18">
<g>
<path d="M 0 0 L 3.5 0" transform="translate(373.05 210.548252)" style="fill: #0000ff; stroke: #0000ff; stroke-width: 0.8"/>
</g>
</g>
<g id="text_18" transform="translate(0.0000 0.2250)">
<text style="font-size: 10px; font-family: 'DejaVu Sans', sans-serif; text-anchor: start; fill: #0000ff; stroke: #0000ff" x="380.05" y="214.347471" transform="rotate(-0 380.05 214.347471)">−0.04</text>
</g>
</g>
<g id="ytick_8">
<g id="line2d_19">
<g>
<path d="M 0 0 L 3.5 0" transform="translate(373.05 176.025758)" style="fill: #0000ff; stroke: #0000ff; stroke-width: 0.8"/>
</g>
</g>
<g id="text_19" transform="translate(0.0000 0.2250)">
<text style="font-size: 10px; font-family: 'DejaVu Sans', sans-serif; text-anchor: start; fill: #0000ff; stroke: #0000ff" x="380.05" y="179.824976" transform="rotate(-0 380.05 179.824976)">−0.02</text>
</g>
</g>
<g id="ytick_9">
<g id="line2d_20">
<g>
<path d="M 0 0 L 3.5 0" transform="translate(373.05 141.503264)" style="fill: #0000ff; stroke: #0000ff; stroke-width: 0.8"/>
</g>
</g>
<g id="text_20" transform="translate(0.0000 0.2250)">
<text style="font-size: 10px; font-family: 'DejaVu Sans', sans-serif; text-anchor: start; fill: #0000ff; stroke: #0000ff" x="380.05" y="145.302482" transform="rotate(-0 380.05 145.302482)">0.00</text>
</g>
</g>
<g id="ytick_10">
<g id="line2d_21">
<g>
<path d="M 0 0 L 3.5 0" transform="translate(373.05 106.98077)" style="fill: #0000ff; stroke: #0000ff; stroke-width: 0.8"/>
</g>
</g>
<g id="text_21" transform="translate(0.0000 0.2250)">
<text style="font-size: 10px; font-family: 'DejaVu Sans', sans-serif; text-anchor: start; fill: #0000ff; stroke: #0000ff" x="380.05" y="110.779988" transform="rotate(-0 380.05 110.779988)">0.02</text>
</g>
</g>
<g id="ytick_11">
<g id="line2d_22">
<g>
<path d="M 0 0 L 3.5 0" transform="translate(373.05 72.458275)" style="fill: #0000ff; stroke: #0000ff; stroke-width: 0.8"/>
</g>
</g>
<g id="text_22" transform="translate(0.0000 0.2250)">
<text style="font-size: 10px; font-family: 'DejaVu Sans', sans-serif; text-anchor: start; fill: #0000ff; stroke: #0000ff" x="380.05" y="76.257494" transform="rotate(-0 380.05 76.257494)">0.04</text>
</g>
</g>
<g id="ytick_12">
<g id="line2d_23">
<g>
<path d="M 0 0 L 3.5 0" transform="translate(373.05 37.935781)" style="fill: #0000ff; stroke: #0000ff; stroke-width: 0.8"/>
</g>
</g>
<g id="text_23" transform="translate(0.0000 0.2250)">
<text style="font-size: 10px; font-family: 'DejaVu Sans', sans-serif; text-anchor: start; fill: #0000ff; stroke: #0000ff" x="380.05" y="41.735" transform="rotate(-0 380.05 41.735)">0.06</text>
</g>
</g>
<g id="ytick_13">
<g id="line2d_24">
<g>
<path d="M 0 0 L 3.5 0" transform="translate(373.05 3.413287)" style="fill: #0000ff; stroke: #0000ff; stroke-width: 0.8"/>
</g>
</g>
<g id="text_24" transform="translate(0.0000 0.2250)">
<text style="font-size: 10px; font-family: 'DejaVu Sans', sans-serif; text-anchor: start; fill: #0000ff; stroke: #0000ff" x="380.05" y="7.212506" transform="rotate(-0 380.05 7.212506)">0.08</text>
</g>
</g>
<g id="text_25" transform="translate(0.3150 0.0000)">
<!-- $V(\lambda) - s_{73}(\lambda)$ -->
<g style="fill: #0000ff; stroke: #0000ff" transform="translate(425.333125 154.255) rotate(-90)">
<text>
<tspan x="0" y="-0.359375" style="font-style: oblique; font-size: 14px; font-family: 'DejaVu Sans', sans-serif; fill: #0000ff; stroke: #0000ff">V</tspan>
<tspan x="15.039062" y="-0.359375" style="font-style: oblique; font-size: 14px; font-family: 'DejaVu Sans', sans-serif; fill: #0000ff; stroke: #0000ff">λ</tspan>
<tspan x="45.97168" y="-0.359375" style="font-style: oblique; font-size: 14px; font-family: 'DejaVu Sans', sans-serif; fill: #0000ff; stroke: #0000ff">s</tspan>
<tspan x="71.580469" y="-0.359375" style="font-style: oblique; font-size: 14px; font-family: 'DejaVu Sans', sans-serif; fill: #0000ff; stroke: #0000ff">λ</tspan>
<tspan x="9.577148" y="-0.359375" style="font-size: 14px; font-family: 'DejaVu Sans', sans-serif; fill: #0000ff; stroke: #0000ff">(</tspan>
<tspan x="23.324219" y="-0.359375" style="font-size: 14px; font-family: 'DejaVu Sans', sans-serif; fill: #0000ff; stroke: #0000ff">)</tspan>
<tspan x="31.513672" y="-0.359375" style="font-size: 14px; font-family: 'DejaVu Sans', sans-serif; fill: #0000ff; stroke: #0000ff">−</tspan>
<tspan x="66.118555" y="-0.359375" style="font-size: 14px; font-family: 'DejaVu Sans', sans-serif; fill: #0000ff; stroke: #0000ff">(</tspan>
<tspan x="79.865625" y="-0.359375" style="font-size: 14px; font-family: 'DejaVu Sans', sans-serif; fill: #0000ff; stroke: #0000ff">)</tspan>
<tspan x="53.265625" y="1.9375" style="font-size: 9.8px; font-family: 'DejaVu Sans', sans-serif; fill: #0000ff; stroke: #0000ff">7</tspan>
<tspan x="59.500684" y="1.9375" style="font-size: 9.8px; font-family: 'DejaVu Sans', sans-serif; fill: #0000ff; stroke: #0000ff">3</tspan>
</text>
</g>
</g>
</g>
<g id="line2d_25">
<path d="M 55.315227 141.503264 
L 59.097784 141.399696 
L 62.880341 141.296129 
L 66.662898 141.158039 
L 70.445455 140.812814 
L 74.228011 140.467589 
L 78.010568 139.431914 
L 81.793125 137.705789 
L 85.575682 134.598765 
L 89.358239 128.902553 
L 93.140795 120.96238 
L 96.923352 111.986531 
L 100.705909 102.83807 
L 104.488466 93.862222 
L 108.271023 85.058986 
L 112.05358 78.327099 
L 115.836136 75.737912 
L 119.618693 79.707999 
L 123.40125 89.892135 
L 127.183807 106.808157 
L 130.966364 129.593003 
L 134.74892 156.347936 
L 138.531477 183.965931 
L 142.314034 205.54249 
L 146.096591 211.238702 
L 149.879148 190.525205 
L 153.661705 151.860012 
L 157.444261 96.451409 
L 161.226818 46.048567 
L 165.009375 19.63886 
L 168.791932 11.871298 
L 172.574489 22.400659 
L 176.357045 48.810367 
L 180.139602 80.571062 
L 183.922159 110.778244 
L 187.704716 135.63444 
L 191.487273 150.133887 
L 195.26983 158.419286 
L 199.052386 160.14541 
L 202.834943 158.074061 
L 206.6175 153.240912 
L 210.400057 146.85425 
L 214.182614 138.741464 
L 217.96517 126.658591 
L 221.747727 115.611393 
L 225.530284 104.90942 
L 229.312841 96.624021 
L 233.095398 90.582585 
L 236.877955 91.445647 
L 240.660511 102.320233 
L 244.443068 116.474455 
L 248.225625 131.49174 
L 252.008182 147.5447 
L 255.790739 163.079822 
L 259.573295 168.603421 
L 263.355852 172.573508 
L 267.138409 176.19837 
L 270.920966 179.305395 
L 274.703523 180.858907 
L 278.48608 179.132782 
L 282.268636 172.918733 
L 286.051193 165.841622 
L 289.83375 161.698923 
L 293.616307 157.210998 
L 297.398864 153.758749 
L 301.18142 150.996949 
L 304.963977 149.098212 
L 308.746534 147.026863 
L 312.529091 145.645963 
L 316.311648 144.437676 
L 320.094205 143.402001 
L 323.876761 142.711551 
L 327.659318 142.366326 
L 331.441875 142.021101 
L 335.224432 141.848489 
L 339.006989 141.675876 
L 342.789545 141.58957 
L 346.572102 141.503264 
L 350.354659 141.503264 
L 354.137216 141.503264 
L 357.919773 141.503264 
" clip-path="url(#p30abd00745)" style="fill: none; stroke: #0000ff; stroke-width: 1.5; stroke-linecap: square"/>
</g>
<g id="patch_6">
<path d="M 40.185 220.905 
L 40.185 2.205 
" style="fill: none; stroke: #000000; stroke-width: 0.8; stroke-linejoin: miter; stroke-linecap: square"/>
</g>
<g id="patch_7">
<path d="M 373.05 220.905 
L 373.05 2.205 
" style="fill: none; stroke: #0000ff; stroke-width: 0.8; stroke-linejoin: miter; stroke-linecap: square"/>
</g>
<g id="patch_8">
<path d="M 40.185 220.905 
L 373.05 220.905 
" style="fill: none; stroke: #000000; stroke-width: 0.8; stroke-linejoin: miter; stroke-linecap: square"/>
</g>
<g id="patch_9">
<path d="M 40.185 2.205 
L 373.05 2.205 
" style="fill: none; stroke: #000000; stroke-width: 0.8; stroke-linejoin: miter; stroke-linecap: square"/>
</g>
<g id="legend_1">
<g id="line2d_26">
<path d="M 253.097489 24.095177 
L 263.097489 24.095177 
L 273.097489 24.095177 
" style="fill: none; stroke: #008000; stroke-width: 1.5; stroke-linecap: square"/>
</g>
<g id="text_26" transform="translate(0.0000 0.1350)">
<!-- $V(\lambda)$ -->
<g transform="translate(281.097489 27.595177)">
<text>
<tspan x="0" y="-0.40625" style="font-style: oblique; font-size: 10px; font-family: 'DejaVu Sans', sans-serif">V</tspan>
<tspan x="10.742188" y="-0.40625" style="font-style: oblique; font-size: 10px; font-family: 'DejaVu Sans', sans-serif">λ</tspan>
<tspan x="6.84082" y="-0.40625" style="font-size: 10px; font-family: 'DejaVu Sans', sans-serif">(</tspan>
<tspan x="16.660156" y="-0.40625" style="font-size: 10px; font-family: 'DejaVu Sans', sans-serif">)</tspan>
</text>
</g>
</g>
<g id="line2d_27">
<g>
<path d="M 0 -3 L -0.673542 -0.927051 L -2.85317 -0.927051 L -1.089814 0.354102 L -1.763356 2.427051 L -0 1.145898 L 1.763356 2.427051 L 1.089814 0.354102 L 2.85317 -0.927051 L 0.673542 -0.927051 z" transform="translate(263.097489 38.773302)" style="fill: #ff0000; stroke: #ff0000; stroke-linejoin: bevel"/>
</g>
</g>
<g id="text_27" transform="translate(0.0000 0.1350)">
<text style="font-size: 10px; font-family: 'DejaVu Sans', sans-serif; text-anchor: start" x="281.097489" y="42.273302" transform="rotate(-0 281.097489 42.273302)">Photometer #73</text>
</g>
<g id="line2d_28">
<path d="M 253.097489 53.451427 
L 263.097489 53.451427 
L 273.097489 53.451427 
" style="fill: none; stroke: #0000ff; stroke-width: 1.5; stroke-linecap: square"/>
</g>
<g id="text_28" transform="translate(0.0000 0.1350)">
<!-- $V(\lambda) - s_{73}(\lambda)$ -->
<g transform="translate(281.097489 56.951427)">
<text>
<tspan x="0" y="-0.40625" style="font-style: oblique; font-size: 10px; font-family: 'DejaVu Sans', sans-serif">V</tspan>
<tspan x="10.742188" y="-0.40625" style="font-style: oblique; font-size: 10px; font-family: 'DejaVu Sans', sans-serif">λ</tspan>
<tspan x="32.836914" y="-0.40625" style="font-style: oblique; font-size: 10px; font-family: 'DejaVu Sans', sans-serif">s</tspan>
<tspan x="51.128906" y="-0.40625" style="font-style: oblique; font-size: 10px; font-family: 'DejaVu Sans', sans-serif">λ</tspan>
<tspan x="6.84082" y="-0.40625" style="font-size: 10px; font-family: 'DejaVu Sans', sans-serif">(</tspan>
<tspan x="16.660156" y="-0.40625" style="font-size: 10px; font-family: 'DejaVu Sans', sans-serif">)</tspan>
<tspan x="22.509766" y="-0.40625" style="font-size: 10px; font-family: 'DejaVu Sans', sans-serif">−</tspan>
<tspan x="47.227539" y="-0.40625" style="font-size: 10px; font-family: 'DejaVu Sans', sans-serif">(</tspan>
<tspan x="57.046875" y="-0.40625" style="font-size: 10px; font-family: 'DejaVu Sans', sans-serif">)</tspan>
<tspan x="38.046875" y="1.234375" style="font-size: 7px; font-family: 'DejaVu Sans', sans-serif">7</tspan>
<tspan x="42.500488" y="1.234375" style="font-size: 7px; font-family: 'DejaVu Sans', sans-serif">3</tspan>
</text>
</g>
</g>
</g>
</g>
</g>
<defs>
<clipPath id="p7235c528ca">
<rect x="40.185" y="2.205" width="332.865" height="218.7"/>
</clipPath>
<clipPath id="p30abd00745">
<rect x="40.185" y="2.205" width="332.865" height="218.7"/>
</clipPath>
</defs>
</svg>

</body></html>
